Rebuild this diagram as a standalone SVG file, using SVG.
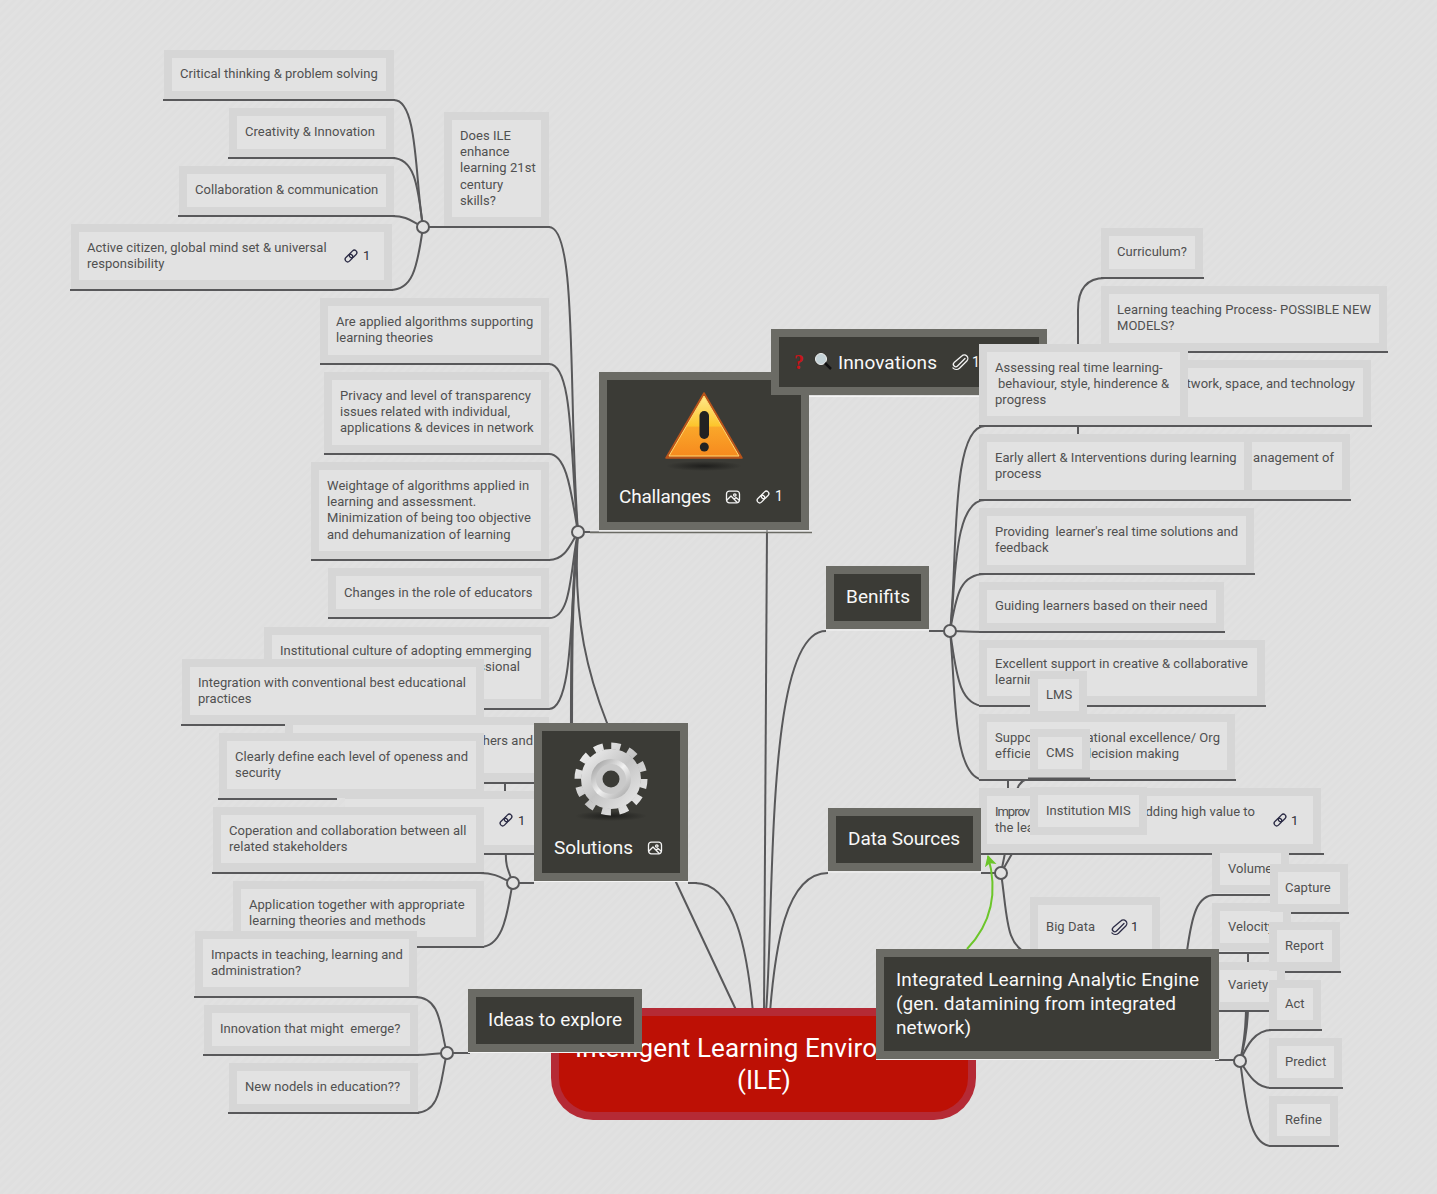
<svg xmlns="http://www.w3.org/2000/svg" width="1437" height="1194" viewBox="0 0 1437 1194">
<style>
text{font-family:Roboto,"Liberation Sans",sans-serif}
.o{fill:#d6d6d6}.i{fill:#e2e2e2}
.t{font-size:13px;fill:#505050;letter-spacing:.04px}
.n{font-size:13px;fill:#2f2f3a}
.u{stroke:#58585a;stroke-width:2;fill:none}
.c{stroke:#58585a;stroke-width:2;fill:none}
.do{fill:#6b6b65}.di{fill:#3b3b36}
.w{font-size:19px;fill:#f8f8f8}
.wn{font-size:14px;fill:#f8f8f8}
.h{stroke:#f4f4f4;stroke-width:1;fill:none}
.j{fill:#e2e2e2;stroke:#58585a;stroke-width:2}
.ic{fill:none;stroke-width:1.3;stroke-linecap:round;stroke-linejoin:round}
.lk{color:#2b2b45}.dk{color:#f4f4f4}
</style>
<defs>
<pattern id="bg" width="6" height="6" patternUnits="userSpaceOnUse" patternTransform="rotate(45)"><rect width="6" height="6" fill="#dfdfdf"/><rect width="3" height="6" fill="#e1e1e1"/></pattern>
<linearGradient id="wa" x1="0" y1="0" x2="0" y2="1"><stop offset="0" stop-color="#ffe98a"/><stop offset=".5" stop-color="#fcc52c"/><stop offset=".52" stop-color="#faa72a"/><stop offset="1" stop-color="#f68a1e"/></linearGradient>
<linearGradient id="gr" x1="0" y1="0" x2="1" y2="1"><stop offset="0" stop-color="#f4f4f4"/><stop offset=".5" stop-color="#c4c4c4"/><stop offset="1" stop-color="#ececec"/></linearGradient>
<linearGradient id="gr2" x1="0" y1="0" x2="1" y2="1"><stop offset="0" stop-color="#8f8f8f"/><stop offset=".5" stop-color="#f2f2f2"/><stop offset="1" stop-color="#9c9c9c"/></linearGradient>
<radialGradient id="sh"><stop offset="0" stop-color="#1e1e1c"/><stop offset="1" stop-color="#3b3b36"/></radialGradient>
<g id="link" class="ic" stroke="currentColor"><rect x="-7.2" y="-2.5" width="8.6" height="5" rx="2.5" transform="rotate(-45)"/><rect x="-1.4" y="-2.5" width="8.6" height="5" rx="2.5" transform="rotate(-45)"/></g>
<path id="clip" class="ic" stroke="currentColor" stroke-width="1.5" d="M5 -3.5L-2.5 4a2.4 2.4 0 0 1-3.4-3.4L1.8-6a3.5 3.5 0 0 1 5 5L-.5 6.3a4.8 4.8 0 0 1-6.6-.4"/>
<g id="img" class="ic" stroke="currentColor"><rect x="-6.5" y="-5.8" width="13" height="11.6" rx="2.8"/><circle cx="1.8" cy="-2" r="1.2"/><path d="M-6.3 3.2L-2 -1L4 5.3M1 2.2L3 .6L6.3 3.3"/></g>
<marker id="ga" markerWidth="12" markerHeight="14" refX="10" refY="6" orient="auto" markerUnits="userSpaceOnUse"><path d="M0 0L11 6L0 12L2.5 6Z" fill="#6cc62a"/></marker>
</defs>
<rect width="1437" height="1194" fill="url(#bg)"/>

<g id="connectors">
<path class="c" d="M423 227H444"/>
<path class="c" d="M423 227C415 180 418 100 394 100"/>
<path class="c" d="M423 227C418 190 416 158 392 158"/>
<path class="c" d="M423 227C412 222 408 216 392 216"/>
<path class="c" d="M423 227C417 270 412 290 390 290"/>
<path class="c" d="M578 532C568 400 578 227 549 227"/>
<path class="c" d="M578 532C570 460 574 364 549 364"/>
<path class="c" d="M578 532C572 500 568 454 549 454"/>
<path class="c" d="M578 532C570 545 565 560 549 560"/>
<path class="c" d="M578 532C570 570 572 618 549 618"/>
<path class="c" d="M578 532C570 590 575 709 549 709"/>
<path class="c" d="M578 532C570 600 571 680 571 760"/>
<path class="c" d="M578 532C572 600 572 650 572 760"/>
<path class="c" d="M578 532H599"/>
<path class="c" d="M737 1012L675 880L607 723C590 680 572 620 578 532"/>
<path class="c" d="M753 1012C747 950 735 883 695 883"/>
<path class="c" d="M764 1012L767 528"/>
<path class="c" d="M766 1012C775 900 765 631 826 631"/>
<path class="c" d="M770 1012C775 950 785 873 828 873"/>
<path class="c" d="M950 631H929"/>
<path class="c" d="M950 631C958 560 950 426 985 426"/>
<path class="c" d="M950 631C956 590 952 500 985 500"/>
<path class="c" d="M950 631C956 600 958 574 985 574"/>
<path class="c" d="M950 631C958 631 965 632 985 632"/>
<path class="c" d="M950 631C956 670 958 706 985 706"/>
<path class="c" d="M950 631C956 690 952 780 985 780"/>
<path class="c" d="M1078 500V310Q1078 278 1105 278"/>
<path class="c" d="M1001 873L1005 853M1001 873L1013 852"/>
<path class="c" d="M1001 873C1008 920 1005 945 1030 955"/>
<path class="c" d="M1008 778V790"/>
<path class="c" d="M1017 790Q1020 779 1032 778"/>
<path class="c" d="M513 883C508 870 505 865 506 850"/>
<path class="c" d="M505 780V792"/>
<path class="c" d="M513 883C504 880 498 873 480 873"/>
<path class="c" d="M513 883C508 900 507 947 480 947"/>
<path class="c" d="M447 1053C440 1030 442 997 415 997"/>
<path class="c" d="M447 1053C438 1053 430 1055 415 1055"/>
<path class="c" d="M447 1053C440 1080 442 1113 415 1113"/>
<path class="c" d="M447 1053H470"/>
<path class="c" d="M1187 951C1192 915 1197 895 1215 895"/>
<path class="c" d="M1248 952V962"/>
<path class="c" d="M1240 1061C1245 1040 1246 1025 1246 1005M1240 1061C1246 1040 1248 1025 1248 1005"/>
<path class="c" d="M1240 1061C1247 1045 1255 1030 1272 1030"/>
<path class="c" d="M1240 1061C1247 1072 1255 1088 1272 1088"/>
<path class="c" d="M1240 1061C1246 1100 1248 1146 1272 1146"/>
<path class="c" d="M1215 1060H1240"/>
</g>

<g id="center"><rect class="b" x="551" y="1008" width="425" height="112" rx="42" fill="#b52a35"/><rect x="559" y="1016" width="409" height="96" rx="34" fill="#bd1005"/>
<text x="575" y="1057" textLength="302" style="font-size:26px;fill:#fff">Intelligent Learning Enviro</text><text x="764" y="1089" text-anchor="middle" style="font-size:26px;fill:#fff">(ILE)</text></g>

<g id="n-critical"><rect class="o" x="164" y="50" width="230" height="49"/><rect class="i" x="172" y="58" width="214" height="33"/><path class="u" d="M163 100H395"/><text class="t" x="180" y="78">Critical thinking &amp; problem solving</text></g>
<g id="n-creativity"><rect class="o" x="229" y="108" width="165" height="49"/><rect class="i" x="237" y="116" width="149" height="33"/><path class="u" d="M228 158H395"/><text class="t" x="245" y="136">Creativity &amp; Innovation</text></g>
<g id="n-collab"><rect class="o" x="179" y="166" width="215" height="49"/><rect class="i" x="187" y="174" width="199" height="33"/><path class="u" d="M178 216H395"/><text class="t" x="195" y="194">Collaboration &amp; communication</text></g>
<g id="n-active"><rect class="o" x="71" y="224" width="321" height="65"/><rect class="i" x="79" y="232" width="305" height="48"/><path class="u" d="M70 290H393"/><text class="t" x="87" y="252">Active citizen, global mind set &amp; universal</text><text class="t" x="87" y="268">responsibility</text><use href="#link" class="lk" x="351" y="256"/><text class="n" x="363" y="260">1</text></g>
<g id="n-ile21"><rect class="o" x="444" y="112" width="105" height="114"/><rect class="i" x="452" y="120" width="89" height="97"/><path class="u" d="M444 227H550"/><text class="t" x="460" y="140">Does ILE</text><text class="t" x="460" y="156">enhance</text><text class="t" x="460" y="172">learning 21st</text><text class="t" x="460" y="189">century</text><text class="t" x="460" y="205">skills?</text></g>
<g id="n-applied"><rect class="o" x="320" y="298" width="229" height="65"/><rect class="i" x="328" y="306" width="213" height="49"/><path class="u" d="M320 364H550"/><text class="t" x="336" y="326">Are applied algorithms supporting</text><text class="t" x="336" y="342">learning theories</text></g>
<g id="n-privacy"><rect class="o" x="324" y="372" width="225" height="81"/><rect class="i" x="332" y="380" width="209" height="65"/><path class="u" d="M324 454H550"/><text class="t" x="340" y="400">Privacy and level of transparency</text><text class="t" x="340" y="416">issues related with individual,</text><text class="t" x="340" y="432">applications &amp; devices in network</text></g>
<g id="n-weight"><rect class="o" x="311" y="462" width="238" height="97"/><rect class="i" x="319" y="470" width="222" height="81"/><path class="u" d="M311 560H550"/><text class="t" x="327" y="490">Weightage of algorithms applied in</text><text class="t" x="327" y="506">learning and assessment.</text><text class="t" x="327" y="522">Minimization of being too objective</text><text class="t" x="327" y="539">and dehumanization of learning</text></g>
<g id="n-changes"><rect class="o" x="328" y="568" width="221" height="49"/><rect class="i" x="336" y="576" width="205" height="33"/><path class="u" d="M328 618H550"/><text class="t" x="344" y="597">Changes in the role of educators</text></g>
<g id="n-culture"><rect class="o" x="264" y="627" width="285" height="81"/><rect class="i" x="272" y="635" width="269" height="64"/><path class="u" d="M264 709H550"/><text class="t" x="280" y="655">Institutional culture of adopting emmerging</text><text class="t" x="520" y="671" text-anchor="end">ssional</text></g>
<g id="n-hidden1"><rect class="o" x="285" y="717" width="264" height="65"/><rect class="i" x="293" y="725" width="248" height="48"/><path class="u" d="M285 783H550"/><text class="t" x="533" y="745" text-anchor="end">hers and</text></g>
<g id="n-hidden2"><rect class="o" x="345" y="791" width="204" height="62"/><rect class="i" x="345" y="799" width="196" height="46"/><path class="u" d="M345 854H550"/><use href="#link" class="lk" x="506" y="820"/><text class="n" x="518" y="825">1</text></g>

<g id="n-challanges"><rect class="do" x="599" y="372" width="210" height="158"/><rect class="di" x="607" y="380" width="194" height="142"/><ellipse cx="704" cy="466" rx="38" ry="5" fill="url(#sh)"/><path d="M704 393L742 458H666Z" fill="#b9541a" stroke="#b9541a" stroke-width="1.500" stroke-linejoin="round"/><path d="M704 396L739 456H669Z" fill="url(#wa)" stroke="#ffd870" stroke-width="1" stroke-linejoin="round"/><rect x="699.5" y="411" width="9.5" height="28" rx="4.7" fill="#222"/><circle cx="704.3" cy="447" r="4.5" fill="#222"/><text class="w" x="619" y="503" textLength="92">Challanges</text><use href="#img" class="dk" x="733" y="497"/><use href="#link" class="dk" x="763" y="497"/><text class="wn" x="775" y="501">1</text><path class="h" d="M590 531H812"/><path stroke="#6b6b65" stroke-width="1.5" d="M590 532.5H812"/></g>

<g id="n-curriculum"><rect class="o" x="1101" y="228" width="102" height="49"/><rect class="i" x="1109" y="236" width="86" height="33"/><path class="u" d="M1101 278H1204"/><text class="t" x="1117" y="256">Curriculum?</text></g>
<g id="n-ltp"><rect class="o" x="1101" y="286" width="286" height="65"/><rect class="i" x="1109" y="294" width="270" height="49"/><path class="u" d="M1101 352H1388"/><text class="t" x="1117" y="314" textLength="254">Learning teaching Process- POSSIBLE NEW</text><text class="t" x="1117" y="330">MODELS?</text></g>
<g id="n-network"><rect class="o" x="1101" y="360" width="270" height="65"/><rect class="i" x="1109" y="368" width="254" height="49"/><path class="u" d="M1101 426H1372"/><text class="t" x="1355" y="388" text-anchor="end">twork, space, and technology</text></g>
<g id="n-manage"><rect class="o" x="1101" y="434" width="249" height="65"/><rect class="i" x="1109" y="442" width="233" height="48"/><path class="u" d="M1101 500H1351"/><text class="t" x="1334" y="462" text-anchor="end">anagement of</text></g>
<g id="n-innovations"><rect class="do" x="771" y="329" width="276" height="66"/><rect class="di" x="779" y="337" width="260" height="50"/><text x="799" y="369" text-anchor="middle" style="font-family:'Liberation Serif',serif;font-weight:bold;font-size:20px;fill:#c8141a">?</text><circle cx="821" cy="359" r="5.5" fill="#c4d2d6" stroke="#eee"/><path d="M825 363L831 369" stroke="#111" stroke-width="2.5"/><text class="w" x="838" y="369" textLength="99">Innovations</text><use href="#clip" class="dk" x="960" y="362"/><text class="wn" x="972" y="367">1</text><path class="h" d="M809 396.500H1047"/></g>
<path id="tick-a" stroke="#58585a" d="M1092 425H1098M1092 499H1098"/>

<g id="n-benifits"><rect class="do" x="826" y="566" width="103" height="63"/><rect class="di" x="834" y="574" width="87" height="47"/><text class="w" x="846" y="603" textLength="64">Benifits</text><path class="h" d="M826 630H929"/></g>
<g id="n-assess"><rect class="o" x="979" y="344" width="209" height="81"/><rect class="i" x="987" y="352" width="193" height="64"/><path class="u" d="M979 426H1189"/><text class="t" x="995" y="372">Assessing real time learning-</text><text class="t" x="998" y="388">behaviour, style, hinderence &amp;</text><text class="t" x="995" y="404">progress</text></g>
<g id="n-early"><rect class="o" x="979" y="434" width="273" height="65"/><rect class="i" x="987" y="442" width="257" height="48"/><path class="u" d="M979 500H1253"/><text class="t" x="995" y="462">Early allert &amp; Interventions during learning</text><text class="t" x="995" y="478">process</text></g>
<g id="n-provide"><rect class="o" x="979" y="508" width="275" height="65"/><rect class="i" x="987" y="516" width="259" height="49"/><path class="u" d="M979 574H1255"/><text class="t" x="995" y="536" textLength="243" xml:space="preserve">Providing  learner's real time solutions and</text><text class="t" x="995" y="552">feedback</text></g>
<g id="n-guide"><rect class="o" x="979" y="582" width="245" height="49"/><rect class="i" x="987" y="590" width="229" height="33"/><path class="u" d="M979 632H1225"/><text class="t" x="995" y="610">Guiding learners based on their need</text></g>
<g id="n-excellent"><rect class="o" x="979" y="640" width="286" height="65"/><rect class="i" x="987" y="648" width="270" height="48"/><path class="u" d="M979 706H1266"/><text class="t" x="995" y="668">Excellent support in creative &amp; collaborative</text><text class="t" x="995" y="684">learnin</text></g>
<g id="n-support"><rect class="o" x="979" y="714" width="256" height="65"/><rect class="i" x="987" y="722" width="240" height="48"/><path class="u" d="M979 780H1236"/><text class="t" x="995" y="742">Suppo</text><text class="t" x="1220" y="742" text-anchor="end">ational excellence/ Org</text><text class="t" x="995" y="758">efficie</text><text class="t" x="1179" y="758" text-anchor="end">lecision making</text></g>

<g id="n-lms"><rect class="o" x="1030" y="671" width="57" height="43"/><rect class="i" x="1038" y="679" width="41" height="32"/><path class="u" d="M1087 706H1100"/><text class="t" x="1046" y="699">LMS</text></g>
<g id="n-cms"><rect class="o" x="1030" y="729" width="60" height="49"/><rect class="i" x="1038" y="737" width="44" height="32"/><path class="u" d="M1028 778.500H1090"/><text class="t" x="1046" y="757">CMS</text></g>

<g id="n-improve"><rect class="o" x="979" y="788" width="342" height="65"/><rect class="i" x="987" y="796" width="326" height="48"/><path class="u" d="M979 854H1324"/><text class="t" x="995" y="816" textLength="35">Improv</text><text class="t" x="1255" y="816" text-anchor="end">dding high value to</text><text class="t" x="995" y="832">the lea</text><use href="#link" class="lk" x="1280" y="820"/><text class="n" x="1291" y="825">1</text></g>
<g id="n-mis"><rect class="o" x="1030" y="787" width="117" height="48"/><rect class="i" x="1038" y="795" width="101" height="32"/><text class="t" x="1046" y="815">Institution MIS</text></g>

<g id="n-data"><rect class="do" x="828" y="808" width="153" height="63"/><rect class="di" x="836" y="816" width="137" height="47"/><text class="w" x="848" y="845" textLength="112">Data Sources</text><path class="h" d="M828 872H981"/><path class="c" d="M981 873H1001"/></g>
<g id="n-bigdata"><rect class="o" x="1030" y="897" width="130" height="60"/><rect class="i" x="1038" y="905" width="114" height="50"/><text class="t" x="1046" y="931">Big Data</text><use href="#clip" class="lk" x="1119" y="927"/><text class="n" x="1131" y="931">1</text></g>

<g id="n-integration"><rect class="o" x="182" y="659" width="302" height="65"/><rect class="i" x="190" y="667" width="286" height="48"/><path class="u" d="M181 725H285"/><text class="t" x="198" y="687">Integration with conventional best educational</text><text class="t" x="198" y="703">practices</text></g>
<g id="n-clearly"><rect class="o" x="219" y="733" width="265" height="65"/><rect class="i" x="227" y="741" width="249" height="48"/><path class="u" d="M218 799H337"/><text class="t" x="235" y="761">Clearly define each level of openess and</text><text class="t" x="235" y="777">security</text></g>
<g id="n-coperation"><rect class="o" x="213" y="807" width="271" height="65"/><rect class="i" x="221" y="815" width="255" height="48"/><path class="u" d="M212 873H484"/><text class="t" x="229" y="835">Coperation and collaboration between all</text><text class="t" x="229" y="851">related stakeholders</text></g>
<g id="n-application"><rect class="o" x="233" y="881" width="251" height="65"/><rect class="i" x="241" y="889" width="235" height="48"/><path class="u" d="M233 947H484"/><text class="t" x="249" y="909">Application together with appropriate</text><text class="t" x="249" y="925">learning theories and methods</text></g>
<g id="n-solutions"><rect class="do" x="534" y="723" width="154" height="158"/><rect class="di" x="542" y="731" width="138" height="142"/><ellipse cx="611" cy="816" rx="36" ry="5" fill="url(#sh)"/><circle cx="611" cy="779" r="33" fill="none" stroke="url(#gr)" stroke-width="7" stroke-dasharray="9.2 8.08"/><circle cx="611" cy="779" r="30" fill="url(#gr)"/><circle cx="611" cy="779" r="20" fill="url(#gr2)"/><circle cx="611" cy="779" r="15" fill="#c9c9c9"/><circle cx="611" cy="779" r="8.500" fill="#3b3b36"/><text class="w" x="554" y="854" textLength="79">Solutions</text><use href="#img" class="dk" x="655" y="848"/><path class="h" d="M534 881.500H688"/><path class="c" d="M513 883H534M688 883H697"/></g>

<g id="n-impacts"><rect class="o" x="195" y="931" width="222" height="65"/><rect class="i" x="203" y="939" width="206" height="48"/><path class="u" d="M194 997H418"/><text class="t" x="211" y="959">Impacts in teaching, learning and</text><text class="t" x="211" y="975">administration?</text></g>
<g id="n-innov"><rect class="o" x="204" y="1005" width="214" height="49"/><rect class="i" x="212" y="1013" width="198" height="33"/><path class="u" d="M203 1055H419"/><text class="t" x="220" y="1033" xml:space="preserve">Innovation that might  emerge?</text></g>
<g id="n-new"><rect class="o" x="229" y="1063" width="189" height="49"/><rect class="i" x="237" y="1071" width="173" height="33"/><path class="u" d="M228 1113H419"/><text class="t" x="245" y="1091">New nodels in education??</text></g>
<g id="n-ideas"><rect class="do" x="468" y="989" width="174" height="63"/><rect class="di" x="476" y="997" width="158" height="47"/><text class="w" x="488" y="1026" textLength="134">Ideas to explore</text><path class="h" d="M468 1052.500H642"/></g>

<g id="n-volume"><rect class="o" x="1212" y="845" width="77" height="48"/><rect class="i" x="1220" y="853" width="61" height="32"/><path class="u" d="M1212 895H1272"/><text class="t" x="1228" y="873">Volume</text></g>
<g id="n-velocity"><rect class="o" x="1212" y="903" width="79" height="48"/><rect class="i" x="1220" y="911" width="63" height="32"/><path class="u" d="M1212 953H1272"/><text class="t" x="1228" y="931">Velocity</text></g>
<g id="n-variety"><rect class="o" x="1212" y="962" width="73" height="48"/><rect class="i" x="1220" y="970" width="57" height="32"/><path class="u" d="M1212 1011H1272"/><text class="t" x="1228" y="989">Variety</text></g>
<g id="n-integrated"><rect class="do" x="876" y="949" width="343" height="110"/><rect class="di" x="884" y="957" width="327" height="94"/><text class="w" x="896" y="986" textLength="303">Integrated Learning Analytic Engine</text><text class="w" x="896" y="1010" textLength="280">(gen. datamining from integrated</text><text class="w" x="896" y="1034" textLength="75">network)</text><path class="h" d="M876 1059.500H1219"/></g>
<g id="n-capture"><rect class="o" x="1270" y="864" width="78" height="48"/><rect class="i" x="1278" y="872" width="62" height="32"/><path class="u" d="M1291 913H1349"/><text class="t" x="1285" y="892">Capture</text></g>
<g id="n-report"><rect class="o" x="1269" y="922" width="71" height="49"/><rect class="i" x="1277" y="930" width="55" height="32"/><path class="u" d="M1285 972H1341"/><text class="t" x="1285" y="950">Report</text></g>
<g id="n-act"><rect class="o" x="1269" y="980" width="52" height="49"/><rect class="i" x="1277" y="988" width="36" height="32"/><path class="u" d="M1269 1030H1322"/><text class="t" x="1285" y="1008">Act</text></g>
<g id="n-predict"><rect class="o" x="1269" y="1038" width="73" height="49"/><rect class="i" x="1277" y="1046" width="57" height="32"/><path class="u" d="M1269 1088H1343"/><text class="t" x="1285" y="1066">Predict</text></g>
<g id="n-refine"><rect class="o" x="1269" y="1096" width="69" height="49"/><rect class="i" x="1277" y="1104" width="53" height="32"/><path class="u" d="M1269 1146H1339"/><text class="t" x="1285" y="1124">Refine</text></g>

<g id="junctions">
<circle class="j" cx="423" cy="227" r="6"/><circle class="j" cx="578" cy="532" r="6"/><circle class="j" cx="950" cy="631" r="6"/><circle class="j" cx="1001" cy="873" r="6"/><circle class="j" cx="513" cy="883" r="6"/><circle class="j" cx="447" cy="1053" r="6"/><circle class="j" cx="1240" cy="1061" r="6"/>
</g>
<path id="relation" d="M967 949C990 925 999 895 988 856" fill="none" stroke="#6cc62a" stroke-width="2" marker-end="url(#ga)"/>
</svg>
